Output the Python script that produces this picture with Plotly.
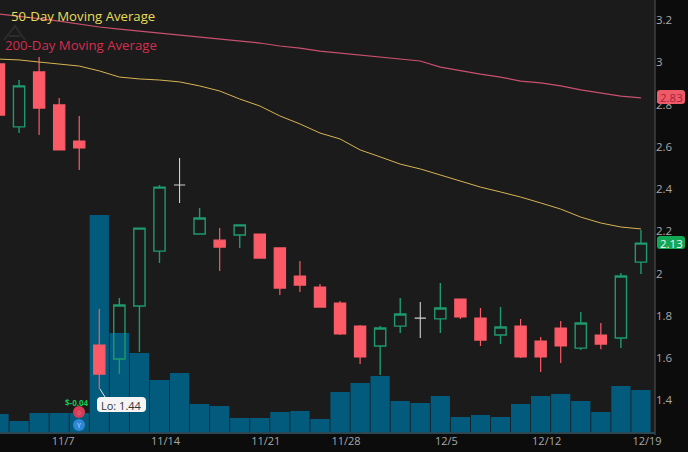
import plotly.graph_objects as go

W, H = 688, 452
PL_R, PL_B = 655, 433

index = list(range(33))
open_ = [2.992,2.694,2.954,2.798,2.627,1.661,1.595,1.846,2.106,2.419,2.187,2.158,2.182,2.187,2.121,1.988,1.936,1.860,1.751,1.657,1.751,1.789,1.785,1.879,1.789,1.709,1.751,1.680,1.742,1.647,1.709,1.695,2.054]
high = [2.992,2.916,3.025,2.831,2.746,1.832,1.884,2.215,2.419,2.547,2.310,2.215,2.230,2.187,2.121,2.059,1.950,1.870,1.756,1.751,1.884,1.865,1.955,1.879,1.837,1.841,1.785,1.699,1.775,1.818,1.766,2.002,2.206]
low = [2.750,2.665,2.656,2.585,2.490,1.453,1.524,1.628,2.050,2.334,2.187,2.012,2.121,2.073,1.898,1.912,1.841,1.709,1.572,1.519,1.718,1.695,1.718,1.785,1.657,1.666,1.600,1.534,1.576,1.638,1.642,1.647,1.998]
close = [2.750,2.888,2.783,2.585,2.594,1.524,1.851,2.215,2.409,2.419,2.263,2.125,2.230,2.073,1.931,1.945,1.841,1.714,1.605,1.742,1.808,1.789,1.837,1.794,1.685,1.747,1.605,1.605,1.657,1.766,1.666,1.988,2.144]
volume = [1.9,1.2,2.0,2.0,2.0,21.8,10.0,8.0,5.3,6.0,2.9,2.7,1.5,1.5,2.1,2.2,1.4,4.1,5.0,5.7,3.2,3.0,3.7,1.6,1.8,1.6,2.9,3.7,3.9,3.2,2.1,4.7,4.3]
ma50 = [3.015,3.011,3.001,2.992,2.982,2.959,2.930,2.921,2.916,2.907,2.888,2.864,2.826,2.793,2.746,2.708,2.665,2.637,2.585,2.552,2.518,2.495,2.466,2.438,2.409,2.386,2.362,2.334,2.305,2.267,2.239,2.220,2.211]
ma200 = [3.228,3.219,3.207,3.195,3.181,3.167,3.157,3.148,3.138,3.129,3.120,3.110,3.101,3.091,3.077,3.067,3.053,3.044,3.034,3.025,3.015,3.006,2.977,2.959,2.944,2.930,2.911,2.902,2.888,2.869,2.854,2.840,2.831]

y_ticks = [1.4,1.6,1.8,2.0,2.2,2.4,2.6,2.8,3.0,3.2]
y_labels = ["1.4","1.6","1.8","2","2.2","2.4","2.6","2.8","3","3.2"]
x_ticks = [3.2,8.3,13.3,17.3,22.3,27.3,32.3]
x_labels = ["11/7","11/14","11/21","11/28","12/5","12/12","12/19"]

BG, PANEL = "#1b1b1b", "#0c0c0c"
GREEN, RED = "#1f9a6d", "#fb5a66"
VOL = "#025a7c"
FONT = "Open Sans"

reg = [i for i in index if open_[i] != close[i]]
doji = [i for i in index if open_[i] == close[i]]
pick = lambda a, ids: [a[i] for i in ids]

fig = go.Figure()
fig.add_trace(go.Bar(x=index, y=volume, marker=dict(color=VOL, line_width=0), width=0.96, yaxis="y"))
fig.add_trace(go.Scatter(x=index, y=ma200, yaxis="y2", mode="lines", line=dict(color="#c9506f", width=1.2)))
fig.add_trace(go.Scatter(x=index, y=ma50, yaxis="y2", mode="lines", line=dict(color="#d8b354", width=1)))
fig.add_trace(go.Candlestick(
    x=pick(index, reg), open=pick(open_, reg), high=pick(high, reg), low=pick(low, reg), close=pick(close, reg),
    yaxis="y2", whiskerwidth=0,
    increasing=dict(line=dict(color=GREEN, width=1.4), fillcolor="rgba(0,0,0,0)"),
    decreasing=dict(line=dict(color=RED, width=1.2), fillcolor=RED)))
fig.add_trace(go.Candlestick(
    x=pick(index, doji), open=pick(open_, doji), high=pick(high, doji), low=pick(low, doji), close=pick(close, doji),
    yaxis="y2", whiskerwidth=0,
    increasing=dict(line=dict(color="#d0d0d0", width=1.1), fillcolor="#d0d0d0"),
    decreasing=dict(line=dict(color="#d0d0d0", width=1.1), fillcolor="#d0d0d0")))

def px(x): return x / PL_R
def py(y): return 1 - y / PL_B
def rrect(x0, y0, x1, y1, r, fill):
    p = (f"M {px(x0+r)} {py(y0)} L {px(x1-r)} {py(y0)} Q {px(x1)} {py(y0)} {px(x1)} {py(y0+r)} "
         f"L {px(x1)} {py(y1-r)} Q {px(x1)} {py(y1)} {px(x1-r)} {py(y1)} "
         f"L {px(x0+r)} {py(y1)} Q {px(x0)} {py(y1)} {px(x0)} {py(y1-r)} "
         f"L {px(x0)} {py(y0+r)} Q {px(x0)} {py(y0)} {px(x0+r)} {py(y0)} Z")
    return dict(type="path", xref="paper", yref="paper", path=p, fillcolor=fill, line=dict(width=0), layer="above")
def circle(cx, cy, r, fill):
    return dict(type="circle", xref="paper", yref="paper", x0=px(cx-r), x1=px(cx+r), y0=py(cy+r), y1=py(cy-r),
                fillcolor=fill, line=dict(width=0), layer="above")

shapes = [
    dict(type="line", xref="paper", yref="paper", x0=1, x1=1, y0=py(PL_B+2), y1=1, line=dict(color="#565656", width=1), layer="above"),
    dict(type="line", xref="paper", yref="paper", x0=0, x1=1, y0=py(PL_B), y1=py(PL_B), line=dict(color="#2b4855", width=2), layer="above"),
    dict(type="path", xref="paper", yref="paper", layer="below",
         path=f"M {px(4)} {py(40)} L {px(15)} {py(26)} L {px(25)} {py(40)} M {px(9)} {py(36)} L {px(20)} {py(36)}",
         line=dict(color="#2c2c2c", width=2)),
    rrect(657, 90, 685, 104, 3, "#ef5a68"),
    rrect(657, 236, 685, 249, 3, "#13a654"),
    rrect(97, 397, 146, 412, 4, "#f4f4f4"),
    dict(type="line", xref="paper", yref="paper", x0=px(100), x1=px(105), y0=py(389), y1=py(397), line=dict(color="#e8e8e8", width=1), layer="above"),
    circle(79, 412, 6, "#d63c58"),
    circle(79, 425, 6, "#2f86d6"),
]

def note(x, y, text, color, size, anchor="center", weight=None):
    return dict(xref="paper", yref="paper", x=px(x), y=py(y), text=text, showarrow=False, xanchor=anchor, yanchor="middle",
                font=dict(color=color, size=size, family=FONT, weight=weight), borderpad=0)

annotations = [
    note(10, 16, "50-Day Moving Average", "#e6de58", 13.2, "left"),
    note(4, 45, "200-Day Moving Average", "#d42e50", 13.2, "left"),
    note(671, 97, "2.83", "#a52236", 11.5),
    note(671, 243, "2.13", "#f2f2f2", 11.5),
    note(121, 405, "Lo: 1.44", "#333333", 11),
    note(77, 402, "$-0.04", "#16c454", 8, weight="bold"),
    note(79, 412, "○", "#f0a0ac", 7),
    note(79, 425, "Y", "#bfe0ff", 7),
]

fig.update_layout(
    width=W, height=H, margin=dict(l=0, r=W-PL_R, t=0, b=H-PL_B),
    paper_bgcolor=PANEL, plot_bgcolor=BG, showlegend=False,
    boxgap=0.2, shapes=shapes, annotations=annotations,
    font=dict(family=FONT, color="#a8a8a8"),
    xaxis=dict(range=[0.05, 32.7], tickvals=x_ticks, ticktext=x_labels, showgrid=False, zeroline=False, showline=False,
               ticks="", tickfont=dict(size=11, color="#a8a8a8"), rangeslider=dict(visible=False)),
    yaxis=dict(range=[0, 43.3], visible=False, fixedrange=True),
    yaxis2=dict(overlaying="y", side="right", range=[1.2450, 3.2947], tickvals=y_ticks, ticktext=y_labels,
                showgrid=False, zeroline=False, showline=False, ticks="", tickfont=dict(size=11.5, color="#a8a8a8")),
)

fig.write_html("out.html", config={"displayModeBar": False},
               post_script="document.body.style.margin='0';document.documentElement.style.background='#0c0c0c';")
